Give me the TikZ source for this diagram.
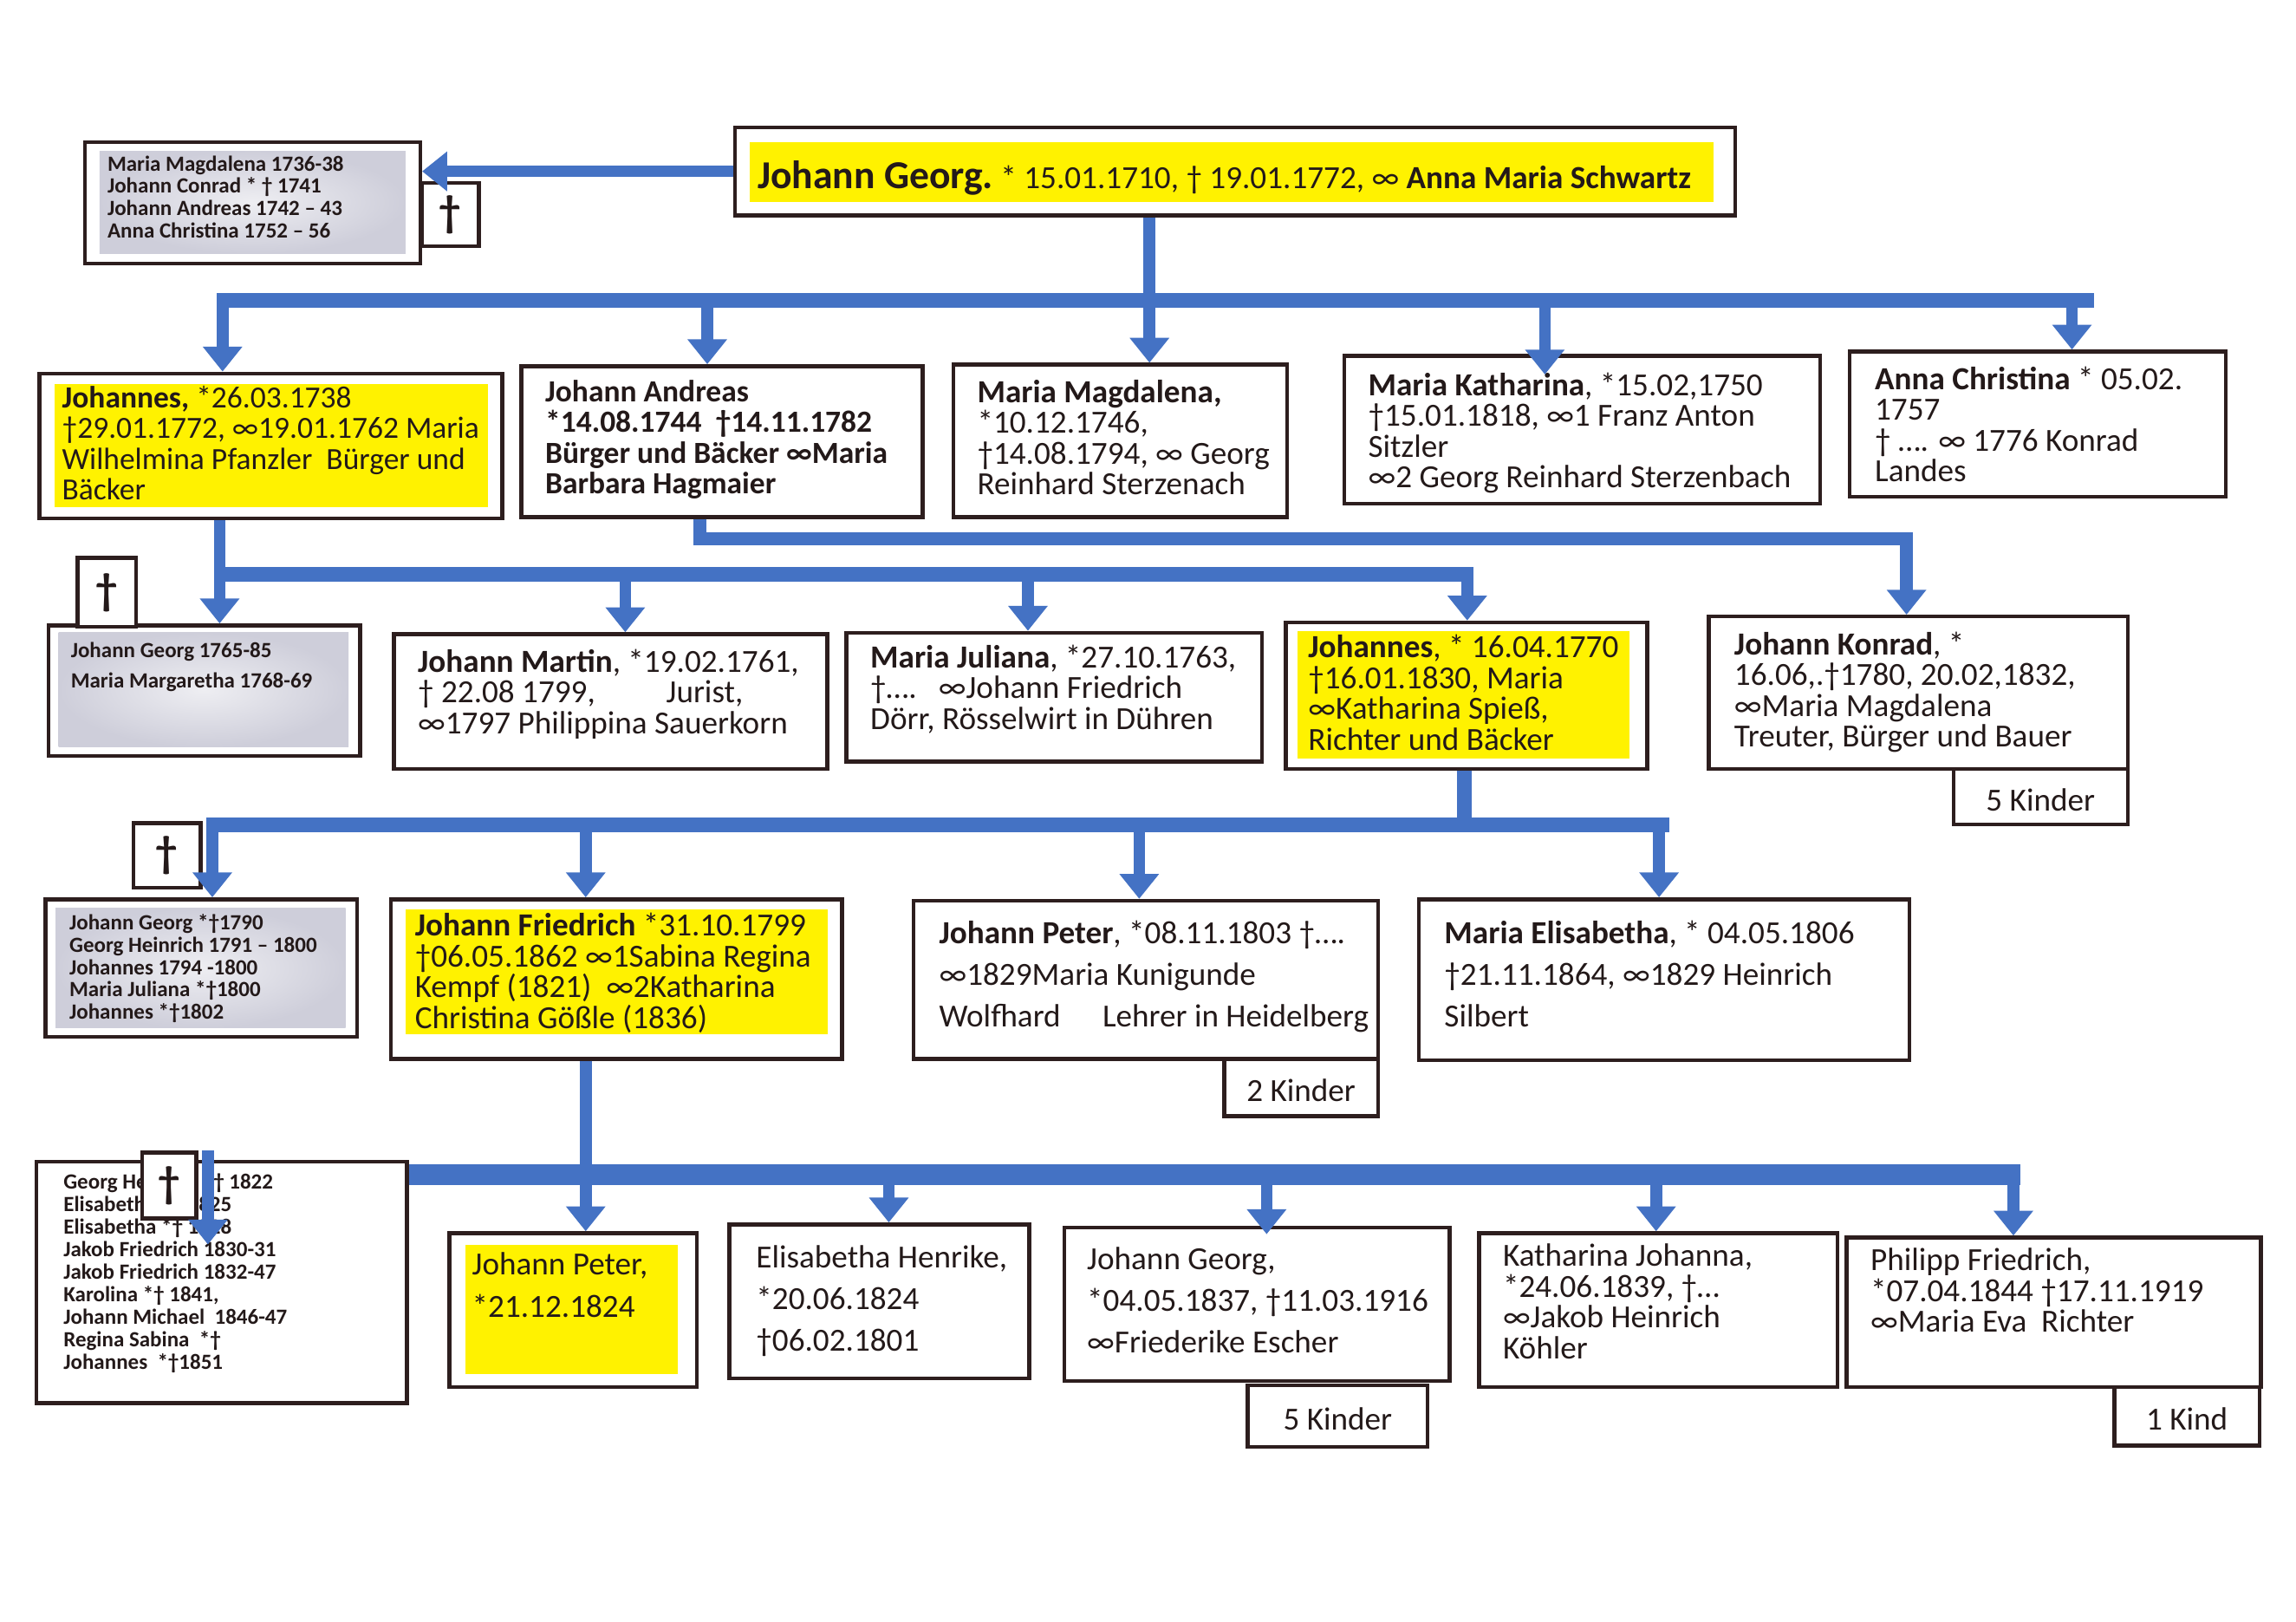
\documentclass[tikz,border=0pt]{standalone}
\usepackage{fontspec}
\setmainfont{Carlito}
\usetikzlibrary{arrows.meta,fit,calc}
\definecolor{conblue}{RGB}{68,114,196}
\definecolor{hl}{RGB}{255,242,0}
\definecolor{ink}{RGB}{35,25,25}
\definecolor{frame}{RGB}{45,30,30}
\definecolor{deadin}{RGB}{238,238,242}
\definecolor{deadout}{RGB}{206,206,218}
\begin{document}
\begin{tikzpicture}[x=0.5pt,y=-0.5pt,
  box/.style={draw=frame, line width=1.3pt, fill=white, inner sep=0pt, text=ink},
  hlbox/.style={fill=hl, draw=none, inner sep=0pt},
  greybox/.style={inner color=deadin, outer color=deadout, draw=none, inner sep=0pt},
  txt/.style={anchor=north west, inner sep=0pt, align=left, text=ink, font=\fontsize{11}{10.5}\selectfont},
  wtxt/.style={txt, font=\fontsize{11}{14.25}\selectfont},
  deadtxt/.style={txt, font=\fontsize{7.4}{7.6}\selectfont\bfseries},
  kindt/.style={anchor=center, inner sep=0pt, text=ink, font=\fontsize{11}{12}\selectfont},
  crosst/.style={anchor=center, inner sep=0pt, text=ink, font=\fontsize{15}{15}\selectfont\bfseries},
  arr/.style={draw=conblue, line width=4pt, -{Triangle[width=13pt,length=8.5pt]}},
  bar/.style={draw=conblue, line width=5pt},
  thickbar/.style={draw=conblue, line width=7pt}
]
\fill[white] (0,0) rectangle (1568,1107);
\useasboundingbox (0,0) rectangle (1568,1107);

% bar 4 lies behind the last dead box
\coordinate (b4l) at (140,802);
\coordinate (b4r) at (1380,802);
\draw[thickbar] (b4l) -- (b4r);

% ---------- generation 0
\node[box, fit={(58,97)(287,180)}] (d0) {};
\node[greybox, fit={(68,103)(277,173)}] (d0g) {};
\node[deadtxt] (d0t) at (73,106) {Maria Magdalena 1736-38\\Johann Conrad * † 1741\\Johann Andreas 1742 – 43\\Anna Christina 1752 – 56};
\node[box, fit={(288,125)(327,168)}] (x0) {};
\node[crosst] (x0t) at (x0.center) {†};

\node[box, fit={(502,87)(1185,147)}] (jg) {};
\node[hlbox, fit={(512,97)(1170,138)}] (jgh) {};
\node[anchor=base west, inner sep=0pt, text=ink] (jgt) at (517,129) {\fontsize{13.5}{14}\selectfont\bfseries Johann Georg.\fontsize{11}{12}\selectfont\mdseries\ * 15.01.1710, † 19.01.1772, ∞ \bfseries Anna Maria Schwartz};

% ---------- generation 1
\node[box, fit={(27,255)(343,354)}] (c1) {};
\node[hlbox, fit={(37,262)(333,346)}] (c1h) {};
\node[txt, font=\fontsize{10.5}{10.5}\selectfont] (c1t) at (42,263) {\textbf{Johannes,} *26.03.1738\\†29.01.1772, ∞19.01.1762 Maria\\Wilhelmina Pfanzler\ \ Bürger und\\Bäcker};

\node[box, fit={(356,250)(630,353)}] (c2) {};
\node[txt, font=\fontsize{10.5}{10.5}\selectfont\bfseries] (c2t) at (372,259) {Johann Andreas\\*14.08.1744\ \ †14.11.1782\\Bürger und Bäcker ∞Maria\\Barbara Hagmaier};

\node[box, fit={(651,249)(879,353)}] (c3) {};
\node[txt] (c3t) at (667,259) {\textbf{Maria Magdalena,}\\*10.12.1746,\\†14.08.1794, ∞ Georg\\Reinhard Sterzenach};

\node[box, fit={(918,243)(1243,344)}] (c4) {};
\node[txt] (c4t) at (934,254) {\textbf{Maria Katharina}, *15.02,1750\\†15.01.1818, ∞1 Franz Anton\\Sitzler\\∞2 Georg Reinhard Sterzenbach};

\node[box, fit={(1263,240)(1520,339)}] (c5) {};
\node[txt] (c5t) at (1280,250) {\textbf{Anna Christina} * 05.02.\\1757\\† …. ∞ 1776 Konrad\\Landes};

% ---------- generation 2
\node[box, fit={(33,427)(246,516)}] (g1) {};
\node[greybox, fit={(40,432)(238,510)}] (g1g) {};
\node[deadtxt, font=\fontsize{7.4}{10.5}\selectfont\bfseries] (g1t) at (48,438) {Johann Georg 1765-85\\Maria Margaretha 1768-69};
\node[box, fit={(53,381)(93,428)}] (x1) {};
\node[crosst] (x1t) at (x1.center) {†};

\node[box, fit={(269,433)(565,525)}] (m1) {};
\node[txt] (m1t) at (285,443) {\textbf{Johann Martin}, *19.02.1761,\\† 22.08 1799,\hspace{2.2em}Jurist,\\∞1797 Philippina Sauerkorn};

\node[box, fit={(578,432)(862,520)}] (m2) {};
\node[txt] (m2t) at (594,440) {\textbf{Maria Juliana}, *27.10.1763,\\†….\ \ \ ∞Johann Friedrich\\Dörr, Rösselwirt in Dühren};

\node[box, fit={(878,425)(1125,525)}] (m3) {};
\node[hlbox, fit={(886,431)(1113,518)}] (m3h) {};
\node[txt] (m3t) at (893,433) {\textbf{Johannes}, * 16.04.1770\\†16.01.1830, Maria\\∞Katharina Spieß,\\Richter und Bäcker};

\node[box, fit={(1167,421)(1453,525)}] (m4) {};
\node[txt] (m4t) at (1184,431) {\textbf{Johann Konrad}, *\\16.06,.†1780, 20.02,1832,\\∞Maria Magdalena\\Treuter, Bürger und Bauer};
\node[box, fit={(1334,525)(1453,563)}] (k1) {};
\node[kindt] (k1t) at ($(k1.center)+(0,2)$) {5 Kinder};

% ---------- generation 3
\node[box, fit={(31,614)(244,708)}] (g2) {};
\node[greybox, fit={(38,620)(236,702)}] (g2g) {};
\node[deadtxt] (g2t) at (47,624) {Johann Georg *†1790\\Georg Heinrich 1791 – 1800\\Johannes 1794 -1800\\Maria Juliana *†1800\\Johannes *†1802};
\node[box, fit={(91,562)(137,606)}] (x2) {};
\node[crosst] (x2t) at (x2.center) {†};

\node[box, fit={(267,614)(575,723)}] (n1) {};
\node[hlbox, fit={(277,621)(565,706)}] (n1h) {};
\node[txt] (n1t) at (283,623) {\textbf{Johann Friedrich} *31.10.1799\\†06.05.1862 ∞1Sabina Regina\\Kempf (1821)\ \ ∞2Katharina\\Christina Gößle (1836)};

\node[box, fit={(624,615)(941,723)}] (n2) {};
\node[wtxt] (n2t) at (641,628) {\textbf{Johann Peter}, *08.11.1803 †….\\∞1829Maria Kunigunde\\Wolfhard\hspace{1.3em}Lehrer in Heidelberg};
\node[box, fit={(836,723)(941,762)}] (k2) {};
\node[kindt] (k2t) at ($(k2.center)+(0,2)$) {2 Kinder};

\node[box, fit={(969,614)(1304,724)}] (n3) {};
\node[wtxt] (n3t) at (986,628) {\textbf{Maria Elisabetha}, * 04.05.1806\\†21.11.1864, ∞1829 Heinrich\\Silbert};

% ---------- generation 4
\node[box, fit={(25,793)(278,958)}] (g3) {};
\node[deadtxt, font=\fontsize{7.4}{7.7}\selectfont\bfseries] (g3t) at (43,801) {Georg Heinrich *† 1822\\Elisabetha *† 1825\\Elisabetha *† 1828\\Jakob Friedrich 1830-31\\Jakob Friedrich 1832-47\\Karolina *† 1841,\\Johann Michael\ \ 1846-47\\Regina Sabina\ \ *†\\Johannes\ \ *†1851};
\node[box, fit={(97,787)(134,832)}] (x3) {};
\node[crosst] (x3t) at (x3.center) {†};

\node[box, fit={(307,842)(476,947)}] (p1) {};
\node[hlbox, fit={(318,850)(463,938)}] (p1h) {};
\node[wtxt] (p1t) at (322,855) {Johann Peter,\\*21.12.1824};

\node[box, fit={(498,836)(703,941)}] (p2) {};
\node[wtxt] (p2t) at (516,850) {Elisabetha Henrike,\\*20.06.1824\\†06.02.1801};

\node[box, fit={(727,838)(990,943)}] (p3) {};
\node[wtxt] (p3t) at (742,851) {Johann Georg,\\*04.05.1837, †11.03.1916\\∞Friederike Escher};
\node[box, fit={(852,946)(975,988)}] (k3) {};
\node[kindt] (k3t) at ($(k3.center)+(0,2)$) {5 Kinder};

\node[box, fit={(1010,842)(1255,947)}] (p4) {};
\node[txt] (p4t) at (1026,849) {Katharina Johanna,\\*24.06.1839, †…\\∞Jakob Heinrich\\Köhler};

\node[box, fit={(1261,845)(1544,947)}] (p5) {};
\node[txt] (p5t) at (1277,852) {Philipp Friedrich,\\*07.04.1844 †17.11.1919\\∞Maria Eva\ \ Richter};
\node[box, fit={(1444,947)(1543,987)}] (k4) {};
\node[kindt] (k4t) at ($(k4.center)+(0,2)$) {1 Kind};

% ---------- connectors
\draw[arr] (jg.west) -- (jg.west -| d0.east);

\coordinate (b1l) at (148,205);
\coordinate (b1r) at (1430,205);
\draw[bar] (b1l) -- (b1r);
\coordinate (tr) at (785,205);
\draw[arr] (tr |- jg.south) -- (tr |- c3.north);
\coordinate (s1) at (152,205);
\draw[arr] (s1) -- (s1 |- c1.north);
\coordinate (s2) at (483,205);
\draw[arr] (s2) -- (s2 |- c2.north);
\coordinate (s4) at (1055,205);
\draw[arr] (s4) -- ($(s4 |- c4.north)+(0,14)$);
\coordinate (s5) at (1415,205);
\draw[arr] (s5) -- (s5 |- c5.north);

% children of Johannes
\coordinate (u1) at (150,392);
\draw[arr] (u1 |- c1.south) -- (u1 |- g1.north);
\coordinate (b2r) at (1006,392);
\draw[bar] ($(u1)+(-2,0)$) -- (b2r);
\coordinate (u2) at (427,392);
\draw[arr] (u2) -- (u2 |- m1.north);
\coordinate (u3) at (702,392);
\draw[arr] (u3) -- (u3 |- m2.north);
\coordinate (u4) at (1002,392);
\draw[arr] (u4) -- (u4 |- m3.north);

% child of Johann Andreas
\coordinate (ja) at (478,368);
\coordinate (jk) at (1302,368);
\draw[draw=conblue, line width=4.5pt, -{Triangle[width=13pt,length=8.5pt]}] (ja |- c2.south) -- (ja) -- (jk) -- (jk |- m4.north);

% children of Johannes (1770)
\coordinate (w0) at (1000,563);
\coordinate (b3l) at (141,563);
\coordinate (b3r) at (1140,563);
\draw[bar] (w0 |- m3.south) -- (w0);
\draw[bar] (b3l) -- (b3r);
\coordinate (w1) at (145,563);
\draw[arr] (w1) -- (w1 |- g2.north);
\coordinate (w2) at (400,563);
\draw[arr] (w2) -- (w2 |- n1.north);
\coordinate (w3) at (778,563);
\draw[arr] (w3) -- (w3 |- n2.north);
\coordinate (w4) at (1133,563);
\draw[arr] (w4) -- (w4 |- n3.north);

% children of Johann Friedrich
\coordinate (y0) at (400,802);
\draw[arr] (y0 |- n1.south) -- (y0 |- p1.north);
\coordinate (z1) at (142,802);
\draw[arr] ($(z1 |- g3.north)+(0,-6)$) -- ($(z1 |- g3.north)+(0,58)$);
\coordinate (z2) at (607,802);
\draw[arr] (z2) -- (z2 |- p2.north);
\coordinate (z3) at (865,802);
\draw[arr] (z3) -- ($(z3 |- p3.north)+(0,6)$);
\coordinate (z4) at (1131,802);
\draw[arr] (z4) -- (z4 |- p4.north);
\coordinate (z5) at (1375,802);
\draw[arr] (z5) -- (z5 |- p5.north);
\end{tikzpicture}
\end{document}
